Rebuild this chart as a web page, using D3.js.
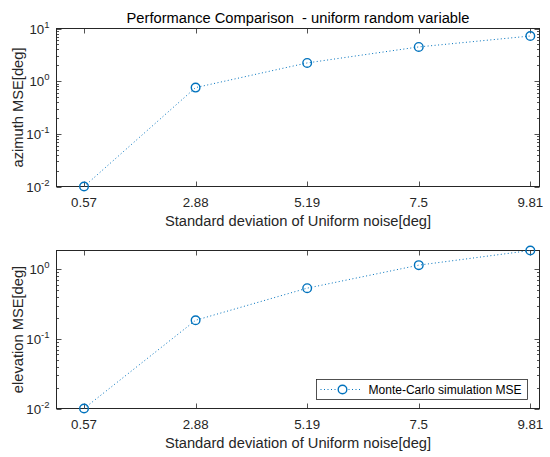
<!DOCTYPE html>
<html><head><meta charset="utf-8">
<script src="https://cdn.jsdelivr.net/npm/d3@7"></script>
<style>
html,body{margin:0;padding:0;background:#fff;}
svg{display:block;font-family:"Liberation Sans",Arial,Helvetica,sans-serif;}
text{white-space:pre;}
</style></head><body>
<svg id="c" width="550" height="457"></svg>
<script>
const xValues = [0.57, 2.88, 5.19, 7.5, 9.81];
const xTickLabels = ["0.57", "2.88", "5.19", "7.5", "9.81"];
const azimuthMSE = [0.01, 0.755, 2.22, 4.47, 7.2];
const elevationMSE = [0.01, 0.1845, 0.533, 1.14, 1.85];
const titleText = "Performance Comparison  - uniform random variable";
const xLabelText = "Standard deviation of Uniform noise[deg]";
const yLabels = ["azimuth MSE[deg]", "elevation MSE[deg]"];
const legendText = "Monte-Carlo simulation MSE";

const svg = d3.select("#c");
const axisColor = "#262626";
const lineColor = "#0072BD";
const L = 56.5, R = 539.5;

function panel(top, bottom, data, yDomain, yLabel, title, legend) {
  const g = svg.append("g");
  const x = d3.scaleLinear().domain([0, 10]).range([L, R]);
  const y = d3.scaleLog().domain(yDomain).range([bottom, top]);

  xValues.forEach((v, i) => {
    const px = Math.round(x(v)) + 0.5;
    g.append("line").attr("x1", px).attr("x2", px).attr("y1", bottom).attr("y2", bottom - 5)
      .attr("stroke", axisColor).attr("stroke-width", 0.8);
    g.append("line").attr("x1", px).attr("x2", px).attr("y1", top).attr("y2", top + 5)
      .attr("stroke", axisColor).attr("stroke-width", 0.8);
    g.append("text").attr("x", x(v)).attr("y", bottom + 20).attr("text-anchor", "middle")
      .attr("font-size", 13.3).attr("fill", axisColor).text(xTickLabels[i]);
  });

  const lo = Math.floor(Math.log10(yDomain[0])), hi = Math.ceil(Math.log10(yDomain[1]));
  for (let e = lo; e <= hi; e++) {
    for (let m = 1; m <= 9; m++) {
      const v = m * Math.pow(10, e);
      if (v < yDomain[0] * 0.999 || v > yDomain[1] * 1.001) continue;
      const py = Math.round(y(v)) + 0.5;
      const len = m === 1 ? 5 : 2.5;
      g.append("line").attr("x1", L).attr("x2", L + len).attr("y1", py).attr("y2", py)
        .attr("stroke", axisColor).attr("stroke-width", 0.8);
      g.append("line").attr("x1", R).attr("x2", R - len).attr("y1", py).attr("y2", py)
        .attr("stroke", axisColor).attr("stroke-width", 0.8);
      if (m === 1) {
        const t = g.append("text").attr("x", L - 7).attr("y", y(v) + 5).attr("text-anchor", "end")
          .attr("font-size", 13.3).attr("fill", axisColor);
        t.append("tspan").text("10");
        t.append("tspan").attr("dy", -6).attr("font-size", 9.5).text(String(e));
      }
    }
  }

  g.append("rect").attr("x", L).attr("y", top).attr("width", R - L).attr("height", bottom - top)
    .attr("fill", "none").attr("stroke", axisColor).attr("stroke-width", 1);

  const line = d3.line().x((d, i) => x(xValues[i])).y(d => y(d));
  g.append("path").datum(data).attr("d", line).attr("fill", "none")
    .attr("stroke", lineColor).attr("stroke-width", 1).attr("stroke-dasharray", "1,2.5");
  g.selectAll("circle.m").data(data).enter().append("circle")
    .attr("cx", (d, i) => x(xValues[i])).attr("cy", d => y(d)).attr("r", 4.3)
    .attr("fill", "none").attr("stroke", lineColor).attr("stroke-width", 1.4);

  g.append("text").attr("x", (L + R) / 2).attr("y", bottom + 39).attr("text-anchor", "middle")
    .attr("font-size", 14.7).attr("fill", axisColor).text(xLabelText);
  g.append("text").attr("transform", `translate(23,${(top + bottom) / 2}) rotate(-90)`)
    .attr("text-anchor", "middle").attr("font-size", 14.7).attr("fill", axisColor).text(yLabel);
  if (title) {
    g.append("text").attr("x", (L + R) / 2).attr("y", top - 6).attr("text-anchor", "middle")
      .attr("font-size", 14.7).attr("fill", "#000").text(title);
  }
  if (legend) {
    const lx = 316.5, ly = 379.5, lw = 211, lh = 20;
    g.append("rect").attr("x", lx).attr("y", ly).attr("width", lw).attr("height", lh)
      .attr("fill", "#fff").attr("stroke", axisColor).attr("stroke-width", 0.8);
    g.append("line").attr("x1", lx + 4).attr("x2", lx + 46).attr("y1", ly + lh / 2).attr("y2", ly + lh / 2)
      .attr("stroke", lineColor).attr("stroke-width", 1).attr("stroke-dasharray", "1,2.5");
    g.append("circle").attr("cx", lx + 26).attr("cy", ly + lh / 2).attr("r", 4.3)
      .attr("fill", "#fff").attr("stroke", lineColor).attr("stroke-width", 1.4);
    g.append("text").attr("x", lx + 52).attr("y", ly + lh / 2 + 4.5).attr("font-size", 12.5)
      .attr("textLength", 153).attr("lengthAdjust", "spacingAndGlyphs")
      .attr("fill", "#000").text(legend);
  }
}

panel(28.5, 186.5, azimuthMSE, [0.01, 10], yLabels[0], titleText, null);
panel(250.5, 408.5, elevationMSE, [0.01, 1.85], yLabels[1], null, legendText);
</script>
</body></html>
